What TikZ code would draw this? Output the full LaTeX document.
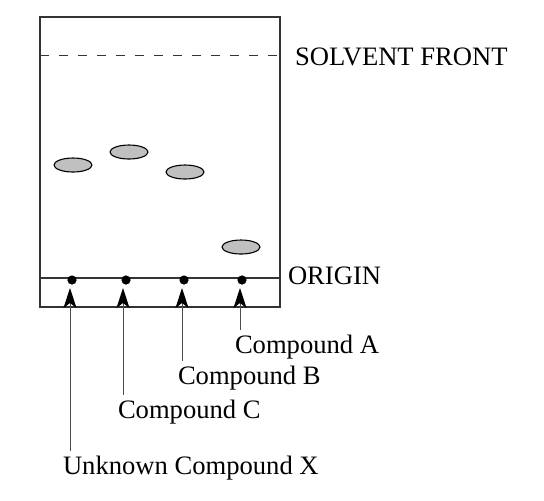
\documentclass[tikz,border=0pt]{standalone}
\usepackage{fontspec}
\setmainfont{Liberation Serif}
\usetikzlibrary{arrows.meta,shapes.geometric}
\definecolor{spotgray}{HTML}{C0C0C0}
\definecolor{edge}{HTML}{333333}

\begin{document}
\begin{tikzpicture}[x=0.5pt,y=-0.5pt, every node/.style={font=\fontsize{13.3}{16}\selectfont},
 lbl/.style={anchor=base west,inner sep=0pt,outer xsep=0pt,outer ysep=2.5pt},
 spot/.style={draw=black,fill=spotgray,ellipse,line width=0.55pt,minimum width=19pt,minimum height=7pt,inner sep=0pt},
 dot/.style={circle,fill=black,inner sep=0pt,minimum size=4.6pt},
 arr/.style={-{Stealth[length=10pt,width=6.5pt,inset=2.5pt,color=black]},draw=black!70,line width=0.5pt}]
\useasboundingbox (0,0) rectangle (544,500);
% plate
\draw[edge,line width=0.6pt] (40,17) rectangle (280,307);
\draw[edge,line width=0.5pt,dash pattern=on 4.5pt off 5pt] (40,55) -- (280,55);
\draw[edge,line width=0.6pt] (40,278) -- (280,278);
\node[lbl] (front) at (295,65) {SOLVENT FRONT};
\node[lbl] (origin) at (288,284) {ORIGIN};
% spots after running
\node[spot] (spotX) at (73,165) {};
\node[spot] (spotC) at (129,152) {};
\node[spot] (spotB) at (185,172) {};
\node[spot] (spotA) at (241,247) {};
% starting points on the origin line
\node[dot] (dotX) at (72,280) {};
\node[dot] (dotC) at (126,280) {};
\node[dot] (dotB) at (184,280) {};
\node[dot] (dotA) at (242,280) {};
\coordinate (tipX) at (70,288);
\coordinate (tipC) at (123,288);
\coordinate (tipB) at (182,288);
\coordinate (tipA) at (240,288);
% labels
\node[lbl] (compA) at (235,353) {Compound A};
\node[lbl] (compB) at (178,384) {Compound B};
\node[lbl] (compC) at (118,418) {Compound C};
\node[lbl] (compX) at (63,474) {Unknown Compound X};
\draw[arr] (compA.north -| tipA) -- (tipA);
\draw[arr] (compB.north -| tipB) -- (tipB);
\draw[arr] (compC.north -| tipC) -- (tipC);
\draw[arr] (compX.north -| tipX) -- (tipX);
\end{tikzpicture}
\end{document}
